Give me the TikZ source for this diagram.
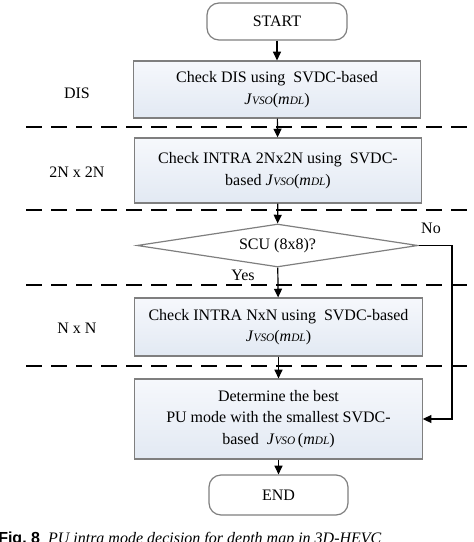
\documentclass[tikz,border=0pt]{standalone}
\usepackage{fontspec}
\setmainfont{Liberation Serif}
\newfontfamily\capsans{Liberation Sans}
\usetikzlibrary{shapes.geometric,arrows.meta}
\definecolor{boxedge}{HTML}{7F7F7F}
\definecolor{boxtop}{HTML}{F6F8FC}
\definecolor{boxbot}{HTML}{E2E9F3}
\newcommand{\jvsoterm}{\textit{J}{\fontsize{8.5}{9}\selectfont\textit{VSO}}(\textit{m}{\fontsize{8.5}{9}\selectfont\textit{DL}})}
\begin{document}
\begin{tikzpicture}[x=0.75pt,y=-0.75pt,
  txt/.style={font=\fontsize{12}{16}\selectfont},
  term/.style={draw=boxedge,line width=0.9pt,rounded corners=9pt,fill=white,txt,inner sep=0pt},
  procbox/.style={draw=boxedge,line width=0.9pt,top color=boxtop,bottom color=boxbot,txt,align=center,inner sep=0pt,minimum width=215.5pt},
  decide/.style={draw=boxedge,line width=0.9pt,fill=white,diamond,aspect=6.5,inner sep=0pt,txt,minimum width=210.75pt,minimum height=32.25pt},
  conn/.style={line width=0.9pt,-{Triangle[length=6.5pt,width=6pt]}},
  sep/.style={line width=1.6pt,dash pattern=on 12pt off 6.75pt},
  lbl/.style={txt,inner sep=0pt}]
\useasboundingbox (0,0) rectangle (474,542);
% separators
\draw[sep] (26,127) -- (474,127);
\draw[sep] (26,210) -- (474,210);
\draw[sep] (26,285) -- (474,285);
\draw[sep] (26,366) -- (474,366);
% left labels
\node[lbl] (ldis) at (77,93) {DIS};
\node[lbl] (l2n) at (77,172) {2N x 2N};
\node[lbl] (lnn) at (77,328) {N x N};
% nodes
\node[term,minimum width=105pt,minimum height=27.75pt] (start) at (277,21.5) {START};
\node[procbox,minimum height=42.75pt] (b1) at (277,89.5) {Check DIS using\ \ SVDC-based\\\jvsoterm};
\node[procbox,minimum height=48.75pt] (b2) at (278,170.5) {Check INTRA 2Nx2N using\ \ SVDC-\\based \jvsoterm};
\node[decide] (scu) at (277.5,245.5) {SCU (8x8)?};
\node[procbox,minimum height=43.5pt] (b3) at (278.5,327) {Check INTRA NxN using\ \ SVDC-based\\\jvsoterm};
\node[procbox,minimum height=60pt] (b4) at (278.5,419) {Determine the best\\PU mode with the smallest SVDC-\\based\ \ \textit{J}{\fontsize{8.5}{9}\selectfont\textit{VSO}}\,(\textit{m}{\fontsize{8.5}{9}\selectfont\textit{DL}})};
\node[term,minimum width=104.25pt,minimum height=30pt] (end) at (278.5,495) {END};
\node[lbl] (no) at (431,228) {No};
\node[lbl] (yes) at (243,275) {Yes};
\node[anchor=base west,inner sep=0pt,font=\fontsize{12}{14}\selectfont] (cap) at (-2,543.5) {{\capsans\bfseries Fig.\ 8}\ \ \textit{PU intra mode decision for depth map in 3D-HEVC}};
\coordinate (noturn) at (452,245.5);
% connectors
\draw[conn] (start) -- (b1);
\draw[conn] (b1) -- (b2);
\draw[conn] (b2) -- (scu);
\draw[conn] (scu) -- (b3);
\draw[conn] (b3) -- (b4);
\draw[conn] (b4) -- (end);
\draw[conn] (scu.east) -- (noturn) |- (b4.east);
\end{tikzpicture}
\end{document}
